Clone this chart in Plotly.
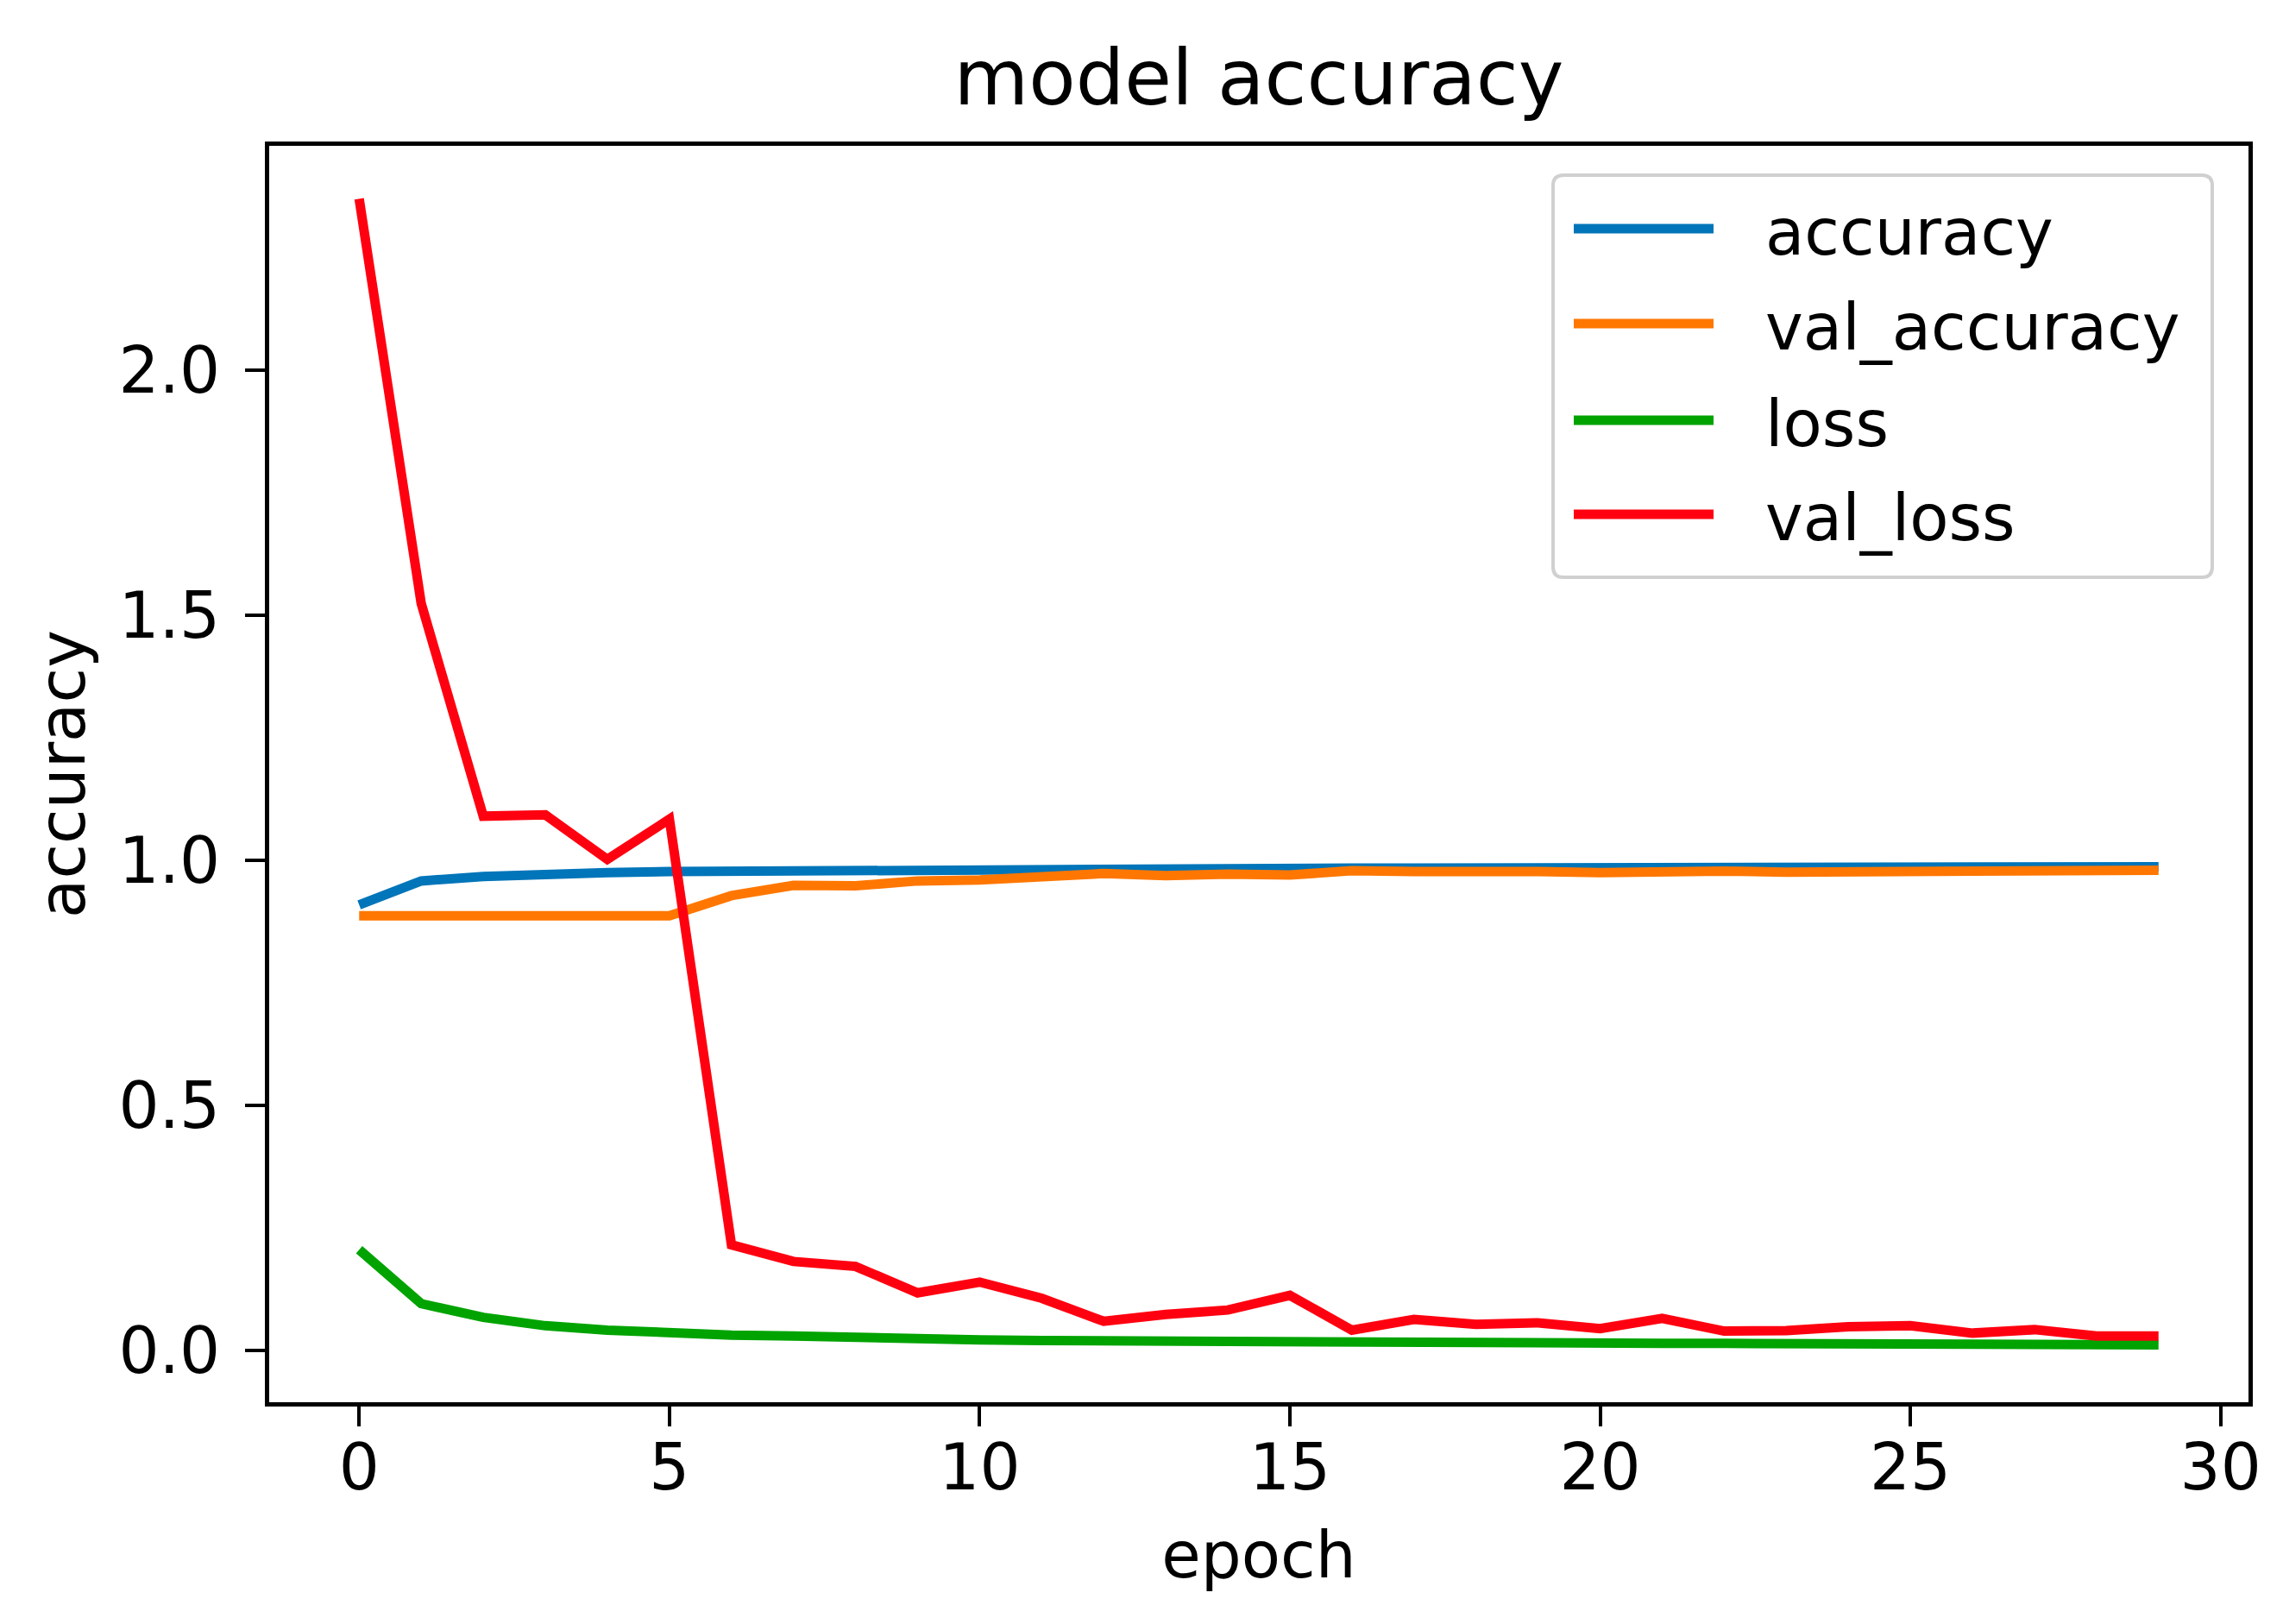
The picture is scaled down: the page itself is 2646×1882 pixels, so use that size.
import plotly.graph_objects as go

epochs = list(range(30))
accuracy = [0.909, 0.958, 0.967, 0.972, 0.975, 0.977, 0.978, 0.979, 0.980, 0.981,
            0.981, 0.982, 0.982, 0.983, 0.983, 0.983, 0.984, 0.984, 0.984, 0.984,
            0.985, 0.985, 0.985, 0.985, 0.985, 0.986, 0.986, 0.986, 0.987, 0.987]
val_accuracy = [0.887, 0.887, 0.887, 0.887, 0.887, 0.887, 0.928, 0.949, 0.948, 0.958,
                0.960, 0.968, 0.973, 0.969, 0.972, 0.970, 0.979, 0.977, 0.979, 0.977,
                0.975, 0.977, 0.978, 0.976, 0.977, 0.977, 0.979, 0.978, 0.979, 0.980]
loss = [0.206, 0.096, 0.068, 0.051, 0.042, 0.035, 0.032, 0.030, 0.026, 0.024,
        0.022, 0.021, 0.020, 0.020, 0.019, 0.018, 0.018, 0.017, 0.016, 0.016,
        0.016, 0.015, 0.015, 0.015, 0.014, 0.013, 0.013, 0.013, 0.012, 0.012]
val_loss = [2.349, 1.524, 1.090, 1.093, 1.002, 1.084, 0.216, 0.182, 0.172, 0.118,
            0.140, 0.107, 0.060, 0.074, 0.083, 0.113, 0.042, 0.064, 0.054, 0.057,
            0.045, 0.066, 0.040, 0.041, 0.049, 0.051, 0.036, 0.043, 0.030, 0.030]

series_names = ["accuracy", "val_accuracy", "loss", "val_loss"]
series_values = [accuracy, val_accuracy, loss, val_loss]
series_colors = ["#0075b9", "#ff7700", "#00a300", "#ff0010"]

x_ticks = [0, 5, 10, 15, 20, 25, 30]
y_ticks = [0.0, 0.5, 1.0, 1.5, 2.0]

W, H = 2646, 1882
L, R, T, B = 304, 2598, 161, 1617
PW, PH = R - L, B - T
FONT = "DejaVu Sans"
LW = 11


def px(xp):
    return (xp - L) / PW


def py(yp):
    return (B - yp) / PH


fig = go.Figure()
for name, vals, col in zip(series_names, series_values, series_colors):
    fig.add_trace(go.Scatter(x=epochs, y=vals, mode="lines", name=name,
                             line=dict(color=col, width=LW), showlegend=False))

# manual legend (matplotlib style)
lx0, ly0, lx1, ly1, r = 1792, 195, 2556, 661, 12
rx, ry = r / PW, r / PH
x0, x1, y0, y1 = px(lx0), px(lx1), py(ly1), py(ly0)
path = (f"M{x0+rx},{y0} L{x1-rx},{y0} Q{x1},{y0} {x1},{y0+ry} "
        f"L{x1},{y1-ry} Q{x1},{y1} {x1-rx},{y1} L{x0+rx},{y1} "
        f"Q{x0},{y1} {x0},{y1-ry} L{x0},{y0+ry} Q{x0},{y0} {x0+rx},{y0} Z")
shapes = [dict(type="path", path=path, xref="paper", yref="paper",
               line=dict(color="#d0d0d0", width=4), fillcolor="rgba(255,255,255,0.8)",
               layer="above")]
annotations = []
rows = [257, 367, 479, 588]
for name, col, yr in zip(series_names, series_colors, rows):
    shapes.append(dict(type="line", xref="paper", yref="paper",
                       x0=px(1816), x1=px(1978), y0=py(yr), y1=py(yr),
                       line=dict(color=col, width=LW), layer="above"))
    annotations.append(dict(text=name, xref="paper", yref="paper", x=px(2036), y=py(yr + 4),
                            xanchor="left", yanchor="middle", showarrow=False,
                            font=dict(family=FONT, size=74, color="black")))

fig.update_layout(
    width=W, height=H,
    margin=dict(l=L, r=W - R, t=T, b=H - B, pad=0),
    paper_bgcolor="white", plot_bgcolor="white",
    font=dict(family=FONT, size=74, color="black"),
    title=dict(text="model accuracy", x=0.5, xref="paper", y=1 - 82 / H,
               yanchor="middle", xanchor="center",
               font=dict(family=FONT, size=89, color="black")),
    shapes=shapes, annotations=annotations,
    showlegend=False,
)
fig.update_xaxes(range=[-1.45, 30.45], tickvals=x_ticks, ticks="outside", ticklen=23,
                 tickwidth=4, tickcolor="black", showline=True, linewidth=5,
                 linecolor="black", mirror=True, showgrid=False, zeroline=False,
                 ticklabelstandoff=-16,
                 tickfont=dict(family=FONT, size=74, color="black"),
                 title=dict(text="epoch", standoff=36,
                            font=dict(family=FONT, size=74, color="black")))
fig.update_yaxes(range=[-0.105, 2.457], tickvals=y_ticks, tickformat=".1f",
                 ticks="outside", ticklen=23, tickwidth=4, tickcolor="black",
                 showline=True, linewidth=5, linecolor="black", mirror=True,
                 showgrid=False, zeroline=False, ticklabelstandoff=14,
                 tickfont=dict(family=FONT, size=74, color="black"),
                 title=dict(text="accuracy", standoff=16,
                            font=dict(family=FONT, size=74, color="black")))

fig.write_html("out.html")
